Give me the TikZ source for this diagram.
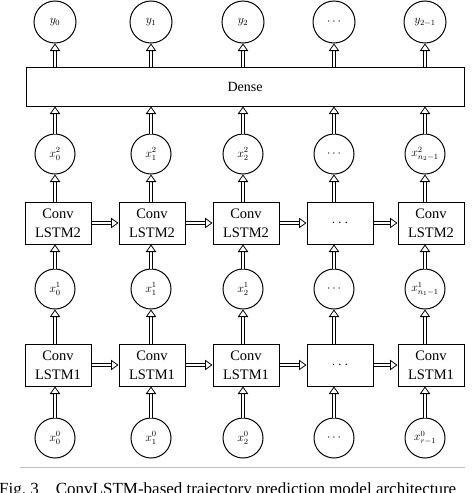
\documentclass[tikz,border=0pt]{standalone}
\usepackage{fontspec}
\setmainfont{Liberation Serif}
\usetikzlibrary{arrows.meta}

\begin{document}
\begin{tikzpicture}[x=1pt,y=-1pt,
        unit/.style={draw,circle,line width=1pt,minimum size=40pt,inner sep=0pt,font=\large},
        cell/.style={draw,line width=1pt,minimum width=66pt,minimum height=42pt,inner sep=0pt,align=center,font=\fontsize{14.5}{19}\selectfont},
        up/.style={double,double distance=2.6pt,line width=0.8pt,-{Triangle[open,fill=white,line width=0.8pt,length=7.5pt,width=10.5pt]}}]
    \useasboundingbox (0,0) rectangle (474,493);

    \node[draw,line width=1pt,minimum width=438pt,minimum height=39pt,inner sep=0pt,font=\fontsize{14}{16}\selectfont] (dense) at (245,86.5) {Dense};

    \foreach \i/\cx/\bx/\ly/\lb/\la/\lz in {
            0/55/58/{y_0}/{x^2_0}/{x^1_0}/{x^0_0},
            1/151/152/{y_1}/{x^2_1}/{x^1_1}/{x^0_1},
            2/243/246/{y_2}/{x^2_2}/{x^1_2}/{x^0_2},
            3/334/340/{\cdots}/{\cdots}/{\cdots}/{\cdots},
            4/425/431/{y_{2-1}}/{x^2_{n_2-1}}/{x^1_{n_1-1}}/{x^0_{r-1}}} {
        \node[unit,minimum size=42pt] (out\i) at (\cx,22) {$\ly$};
        \node[unit] (xtwo\i) at (\cx,154) {$\lb$};
        \node[cell] (ltwo\i) at (\bx,223) {\ifnum\i=3 $\cdots$\else Conv\\LSTM2\fi};
        \node[unit] (xone\i) at (\cx,289) {$\la$};
        \node[cell] (lone\i) at (\bx,365) {\ifnum\i=3 $\cdots$\else Conv\\LSTM1\fi};
        \node[unit] (xzero\i) at (\cx,438) {$\lz$};

        \draw[up] (out\i.south |- dense.north) -- (out\i.south);
        \draw[up] (xtwo\i.north) -- (xtwo\i.north |- dense.south);
        \draw[up] (xtwo\i.south |- ltwo\i.north) -- (xtwo\i.south);
        \draw[up] (xone\i.north) -- (xone\i.north |- ltwo\i.south);
        \draw[up] (xone\i.south |- lone\i.north) -- (xone\i.south);
        \draw[up] (xzero\i.north) -- (xzero\i.north |- lone\i.south);
    }
    \foreach \i [count=\j] in {0,...,3} {
        \draw[up] (ltwo\i.east) -- (ltwo\j.west);
        \draw[up] (lone\i.east) -- (lone\j.west);
    }

    \draw[black!25,line width=0.7pt] (20,467) -- (465,467);
    \node[anchor=base west,inner sep=0pt,font=\fontsize{17}{19}\selectfont] (caption) at (-1,494) {Fig.~3\hspace{1em}ConvLSTM-based trajectory prediction model architecture};
\end{tikzpicture}
\end{document}
